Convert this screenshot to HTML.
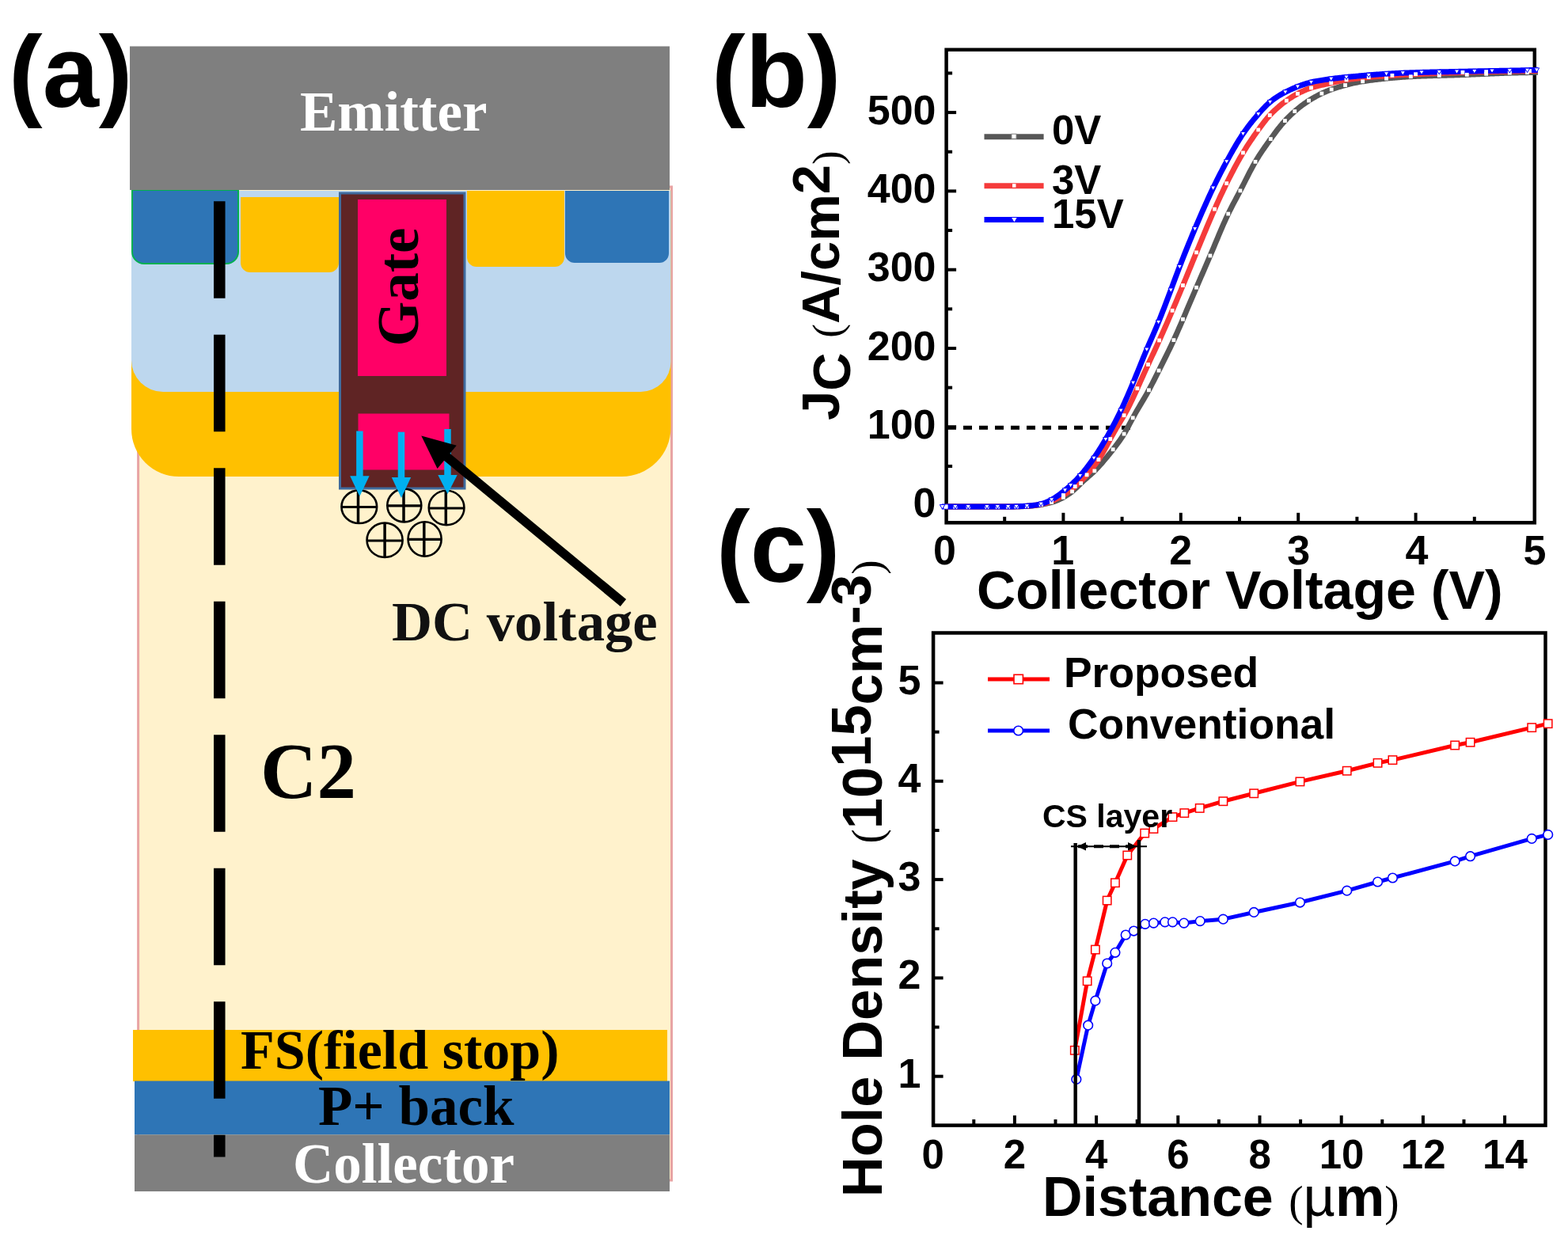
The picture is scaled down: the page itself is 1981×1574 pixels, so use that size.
<!DOCTYPE html>
<html><head><meta charset="utf-8"><title>Figure</title>
<style>html,body{margin:0;padding:0;background:#fff;overflow:hidden;width:1981px;height:1574px;} svg{display:block;}</style>
</head><body>
<svg width="1981" height="1574" viewBox="0 0 1981 1574">
<rect width="1981" height="1574" fill="#fff"/>
<text x="11" y="134.5" font-family="'Liberation Sans', Arial, sans-serif" font-weight="bold" font-size="128">(a)</text>
<rect x="174.6" y="236" width="673.9" height="1255" fill="#FFF2CC" stroke="#E8A4A4" stroke-width="3"/>
<path d="M166,241 H847.5 V540 a62,62 0 0 1 -62,62 H226 a60,60 0 0 1 -60,-60 Z" fill="#FFC000"/>
<path d="M166,241 H847.5 V457 a38,38 0 0 1 -38,38 H206 a40,40 0 0 1 -40,-40 Z" fill="#BDD7EE"/>
<path d="M167,240 H301 V318 a15,15 0 0 1 -15,15 H182 a15,15 0 0 1 -15,-15 Z" fill="#2E75B6" stroke="#00B050" stroke-width="2"/>
<path d="M714,241 H845 V320 a12,12 0 0 1 -12,12 H726 a12,12 0 0 1 -12,-12 Z" fill="#2E75B6"/>
<path d="M304,249 H428 V332 a12,12 0 0 1 -12,12 H316 a12,12 0 0 1 -12,-12 Z" fill="#FFC000"/>
<path d="M590,241 H713 V325 a12,12 0 0 1 -12,12 H602 a12,12 0 0 1 -12,-12 Z" fill="#FFC000"/>
<rect x="429.5" y="244" width="157.5" height="373" fill="#5F2424" stroke="#3F6B9E" stroke-width="3"/>
<rect x="452" y="252" width="112" height="223" fill="#FF0066"/>
<rect x="452.5" y="522.5" width="115" height="71" fill="#FF0066"/>
<rect x="164" y="58.5" width="682" height="181.5" fill="#7F7F7F"/>
<text x="379" y="164.5" font-family="'Liberation Serif', 'Times New Roman', serif" font-weight="bold" font-size="71" fill="#fff">Emitter</text>
<text transform="translate(527.8,437.5) rotate(-90)" x="0" y="0" font-family="'Liberation Serif', 'Times New Roman', serif" font-weight="bold" font-size="73">Gate</text>
<rect x="168" y="1301" width="675" height="65" fill="#FFC000"/>
<rect x="170" y="1365.5" width="676" height="68" fill="#2E75B6"/>
<rect x="170" y="1433.5" width="676" height="71.5" fill="#7F7F7F"/>
<line x1="277.3" y1="254.3" x2="277.3" y2="1461.5" stroke="#000" stroke-width="14.5" stroke-dasharray="122.5 46"/>
<text x="304" y="1349.7" font-family="'Liberation Serif', 'Times New Roman', serif" font-weight="bold" font-size="70">FS(field stop)</text>
<text x="402" y="1421.3" font-family="'Liberation Serif', 'Times New Roman', serif" font-weight="bold" font-size="71">P+ back</text>
<text x="370" y="1494" font-family="'Liberation Serif', 'Times New Roman', serif" font-weight="bold" font-size="71" fill="#fff">Collector</text>
<text x="329" y="1006.5" font-family="'Liberation Serif', 'Times New Roman', serif" font-weight="bold" font-size="99">C2</text>
<text x="495" y="808.5" font-family="'Liberation Serif', 'Times New Roman', serif" font-weight="bold" font-size="70.7" fill="#111">DC voltage</text>
<ellipse cx="453.8" cy="640.2" rx="22.35" ry="20.85" fill="none" stroke="#000" stroke-width="2.6"/>
<line x1="431.45" y1="640.5" x2="476.15" y2="640.5" stroke="#000" stroke-width="3.2"/>
<line x1="452.5" y1="619.35" x2="452.5" y2="661.05" stroke="#000" stroke-width="3.5"/>
<ellipse cx="510.8" cy="638.5" rx="21.5" ry="20.85" fill="none" stroke="#000" stroke-width="2.6"/>
<line x1="489.3" y1="638.8" x2="532.3" y2="638.8" stroke="#000" stroke-width="3.2"/>
<line x1="510" y1="617.65" x2="510" y2="659.35" stroke="#000" stroke-width="3.5"/>
<ellipse cx="564.1" cy="641.5" rx="22.35" ry="21.7" fill="none" stroke="#000" stroke-width="2.6"/>
<line x1="541.75" y1="642" x2="586.45" y2="642" stroke="#000" stroke-width="3.2"/>
<line x1="563.3" y1="619.8" x2="563.3" y2="663.2" stroke="#000" stroke-width="3.5"/>
<ellipse cx="486.1" cy="682.3" rx="22.55" ry="21.7" fill="none" stroke="#000" stroke-width="2.6"/>
<line x1="463.55" y1="683" x2="508.65" y2="683" stroke="#000" stroke-width="3.2"/>
<line x1="486.1" y1="660.6" x2="486.1" y2="704" stroke="#000" stroke-width="3.5"/>
<ellipse cx="536.6" cy="681" rx="21.05" ry="21.7" fill="none" stroke="#000" stroke-width="2.6"/>
<line x1="515.55" y1="681.3" x2="557.65" y2="681.3" stroke="#000" stroke-width="3.2"/>
<line x1="535.8" y1="659.3" x2="535.8" y2="702.7" stroke="#000" stroke-width="3.5"/>
<line x1="454.4" y1="544.5" x2="454.4" y2="603.2" stroke="#00B0F0" stroke-width="8.5"/>
<polygon points="442.2,601.2 466.59999999999997,601.2 454.4,627" fill="#00B0F0"/>
<line x1="507" y1="545.7" x2="507" y2="605" stroke="#00B0F0" stroke-width="8.5"/>
<polygon points="494.8,603 519.2,603 507,629" fill="#00B0F0"/>
<line x1="565.5" y1="542" x2="565.5" y2="602" stroke="#00B0F0" stroke-width="8.5"/>
<polygon points="553.3,600 577.7,600 565.5,624" fill="#00B0F0"/>
<line x1="559.81" y1="573.25" x2="787.4" y2="761.5" stroke="#000" stroke-width="11.5"/>
<polygon points="532.3,550.5 552.55,591.91 576.77,562.63" fill="#000"/>
<text x="899" y="135" font-family="'Liberation Sans', Arial, sans-serif" font-weight="bold" font-size="128">(b)</text>
<rect x="1195.6" y="62.8" width="743.2" height="597.5" fill="none" stroke="#000" stroke-width="4.5"/>
<line x1="1195.6" y1="638.6" x2="1208.1" y2="638.6" stroke="#000" stroke-width="4"/>
<text x="1182.5" y="653.1" text-anchor="end" font-family="'Liberation Sans', Arial, sans-serif" font-weight="bold" font-size="52">0</text>
<line x1="1195.6" y1="588.95" x2="1203.1" y2="588.95" stroke="#000" stroke-width="4"/>
<line x1="1195.6" y1="539.3" x2="1208.1" y2="539.3" stroke="#000" stroke-width="4"/>
<text x="1182.5" y="553.8" text-anchor="end" font-family="'Liberation Sans', Arial, sans-serif" font-weight="bold" font-size="52">100</text>
<line x1="1195.6" y1="489.65" x2="1203.1" y2="489.65" stroke="#000" stroke-width="4"/>
<line x1="1195.6" y1="440" x2="1208.1" y2="440" stroke="#000" stroke-width="4"/>
<text x="1182.5" y="454.5" text-anchor="end" font-family="'Liberation Sans', Arial, sans-serif" font-weight="bold" font-size="52">200</text>
<line x1="1195.6" y1="390.35" x2="1203.1" y2="390.35" stroke="#000" stroke-width="4"/>
<line x1="1195.6" y1="340.7" x2="1208.1" y2="340.7" stroke="#000" stroke-width="4"/>
<text x="1182.5" y="355.2" text-anchor="end" font-family="'Liberation Sans', Arial, sans-serif" font-weight="bold" font-size="52">300</text>
<line x1="1195.6" y1="291.05" x2="1203.1" y2="291.05" stroke="#000" stroke-width="4"/>
<line x1="1195.6" y1="241.4" x2="1208.1" y2="241.4" stroke="#000" stroke-width="4"/>
<text x="1182.5" y="255.9" text-anchor="end" font-family="'Liberation Sans', Arial, sans-serif" font-weight="bold" font-size="52">400</text>
<line x1="1195.6" y1="191.75" x2="1203.1" y2="191.75" stroke="#000" stroke-width="4"/>
<line x1="1195.6" y1="142.1" x2="1208.1" y2="142.1" stroke="#000" stroke-width="4"/>
<text x="1182.5" y="156.6" text-anchor="end" font-family="'Liberation Sans', Arial, sans-serif" font-weight="bold" font-size="52">500</text>
<line x1="1195.6" y1="92.45" x2="1203.1" y2="92.45" stroke="#000" stroke-width="4"/>
<line x1="1269.2" y1="660.3" x2="1269.2" y2="652.8" stroke="#000" stroke-width="4"/>
<line x1="1343.4" y1="660.3" x2="1343.4" y2="647.8" stroke="#000" stroke-width="4"/>
<line x1="1417.6" y1="660.3" x2="1417.6" y2="652.8" stroke="#000" stroke-width="4"/>
<line x1="1491.8" y1="660.3" x2="1491.8" y2="647.8" stroke="#000" stroke-width="4"/>
<line x1="1566" y1="660.3" x2="1566" y2="652.8" stroke="#000" stroke-width="4"/>
<line x1="1640.2" y1="660.3" x2="1640.2" y2="647.8" stroke="#000" stroke-width="4"/>
<line x1="1714.4" y1="660.3" x2="1714.4" y2="652.8" stroke="#000" stroke-width="4"/>
<line x1="1788.6" y1="660.3" x2="1788.6" y2="647.8" stroke="#000" stroke-width="4"/>
<line x1="1862.8" y1="660.3" x2="1862.8" y2="652.8" stroke="#000" stroke-width="4"/>
<line x1="1197" y1="540.2" x2="1428" y2="540.2" stroke="#000" stroke-width="5" stroke-dasharray="11 9"/>
<path d="M1195,640.09 L1196.5,640.09 L1198,640.09 L1199.5,640.09 L1201,640.09 L1202.49,640.09 L1203.99,640.09 L1205.49,640.09 L1206.99,640.09 L1208.49,640.09 L1209.99,640.09 L1211.49,640.09 L1212.99,640.09 L1214.49,640.09 L1215.98,640.09 L1217.48,640.09 L1218.98,640.09 L1220.48,640.09 L1221.98,640.09 L1223.48,640.09 L1224.98,640.09 L1226.48,640.09 L1227.98,640.09 L1229.47,640.09 L1230.97,640.09 L1232.47,640.09 L1233.97,640.09 L1235.47,640.09 L1236.97,640.09 L1238.47,640.09 L1239.97,640.09 L1241.46,640.09 L1242.96,640.09 L1244.46,640.09 L1245.96,640.09 L1247.46,640.09 L1248.96,640.09 L1250.46,640.09 L1251.96,640.09 L1253.46,640.09 L1254.95,640.09 L1256.45,640.09 L1257.95,640.09 L1259.45,640.09 L1260.95,640.09 L1262.45,640.09 L1263.95,640.09 L1265.45,640.09 L1266.95,640.09 L1268.44,640.08 L1269.94,640.08 L1271.44,640.07 L1272.94,640.06 L1274.44,640.05 L1275.94,640.03 L1277.44,640.01 L1278.94,639.99 L1280.44,639.96 L1281.93,639.93 L1283.43,639.89 L1284.93,639.86 L1286.43,639.82 L1287.93,639.77 L1289.43,639.73 L1290.93,639.68 L1292.43,639.63 L1293.93,639.57 L1295.42,639.51 L1296.92,639.44 L1298.42,639.37 L1299.92,639.28 L1301.42,639.18 L1302.92,639.06 L1304.42,638.93 L1305.92,638.78 L1307.42,638.61 L1308.91,638.42 L1310.41,638.22 L1311.91,638 L1313.41,637.76 L1314.91,637.51 L1316.41,637.24 L1317.91,636.95 L1319.41,636.65 L1320.91,636.34 L1322.4,636.02 L1323.9,635.68 L1325.4,635.32 L1326.9,634.94 L1328.4,634.53 L1329.9,634.1 L1331.4,633.62 L1332.9,633.11 L1334.39,632.56 L1335.89,631.95 L1337.39,631.31 L1338.89,630.62 L1340.39,629.89 L1341.89,629.11 L1343.39,628.3 L1344.89,627.45 L1346.39,626.56 L1347.88,625.63 L1349.38,624.65 L1350.88,623.63 L1352.38,622.56 L1353.88,621.41 L1355.38,620.19 L1356.88,618.9 L1358.38,617.53 L1359.88,616.11 L1361.37,614.65 L1362.87,613.17 L1364.37,611.71 L1365.87,610.26 L1367.37,608.86 L1368.87,607.48 L1370.37,606.15 L1371.87,604.83 L1373.37,603.53 L1374.86,602.23 L1376.36,600.92 L1377.86,599.59 L1379.36,598.22 L1380.86,596.83 L1382.36,595.39 L1383.86,593.9 L1385.36,592.37 L1386.86,590.79 L1388.35,589.17 L1389.85,587.52 L1391.35,585.82 L1392.85,584.1 L1394.35,582.34 L1395.85,580.56 L1397.35,578.75 L1398.85,576.92 L1400.35,575.08 L1401.84,573.21 L1403.34,571.34 L1404.84,569.45 L1406.34,567.54 L1407.84,565.62 L1409.34,563.68 L1410.84,561.71 L1412.34,559.7 L1413.83,557.64 L1415.33,555.51 L1416.83,553.31 L1418.33,551.02 L1419.83,548.62 L1421.33,546.12 L1422.83,543.51 L1424.33,540.81 L1425.83,538.04 L1427.32,535.23 L1428.82,532.4 L1430.32,529.58 L1431.82,526.8 L1433.32,524.07 L1434.82,521.4 L1436.32,518.78 L1437.82,516.21 L1439.32,513.67 L1440.81,511.16 L1442.31,508.65 L1443.81,506.14 L1445.31,503.61 L1446.81,501.04 L1448.31,498.43 L1449.81,495.76 L1451.31,493.04 L1452.81,490.25 L1454.3,487.4 L1455.8,484.5 L1457.3,481.56 L1458.8,478.58 L1460.3,475.59 L1461.8,472.58 L1463.3,469.57 L1464.8,466.57 L1466.3,463.57 L1467.79,460.58 L1469.29,457.59 L1470.79,454.6 L1472.29,451.6 L1473.79,448.59 L1475.29,445.55 L1476.79,442.49 L1478.29,439.4 L1479.79,436.26 L1481.28,433.08 L1482.78,429.85 L1484.28,426.57 L1485.78,423.24 L1487.28,419.86 L1488.78,416.44 L1490.28,412.99 L1491.78,409.52 L1493.28,406.03 L1494.77,402.53 L1496.27,399.03 L1497.77,395.51 L1499.27,391.99 L1500.77,388.47 L1502.27,384.94 L1503.77,381.41 L1505.27,377.89 L1506.76,374.36 L1508.26,370.85 L1509.76,367.34 L1511.26,363.84 L1512.76,360.35 L1514.26,356.88 L1515.76,353.41 L1517.26,349.95 L1518.76,346.49 L1520.25,343.04 L1521.75,339.58 L1523.25,336.13 L1524.75,332.66 L1526.25,329.19 L1527.75,325.7 L1529.25,322.19 L1530.75,318.67 L1532.25,315.12 L1533.74,311.55 L1535.24,307.97 L1536.74,304.38 L1538.24,300.79 L1539.74,297.21 L1541.24,293.66 L1542.74,290.13 L1544.24,286.64 L1545.74,283.21 L1547.23,279.83 L1548.73,276.53 L1550.23,273.29 L1551.73,270.14 L1553.23,267.06 L1554.73,264.06 L1556.23,261.12 L1557.73,258.23 L1559.23,255.38 L1560.72,252.56 L1562.22,249.75 L1563.72,246.93 L1565.22,244.09 L1566.72,241.23 L1568.22,238.34 L1569.72,235.42 L1571.22,232.47 L1572.72,229.5 L1574.21,226.53 L1575.71,223.56 L1577.21,220.61 L1578.71,217.7 L1580.21,214.83 L1581.71,212.03 L1583.21,209.29 L1584.71,206.63 L1586.21,204.04 L1587.7,201.53 L1589.2,199.09 L1590.7,196.71 L1592.2,194.39 L1593.7,192.12 L1595.2,189.89 L1596.7,187.71 L1598.2,185.55 L1599.69,183.42 L1601.19,181.31 L1602.69,179.22 L1604.19,177.14 L1605.69,175.08 L1607.19,173.02 L1608.69,170.97 L1610.19,168.93 L1611.69,166.92 L1613.18,164.93 L1614.68,162.97 L1616.18,161.06 L1617.68,159.2 L1619.18,157.39 L1620.68,155.64 L1622.18,153.95 L1623.68,152.31 L1625.18,150.73 L1626.67,149.19 L1628.17,147.69 L1629.67,146.23 L1631.17,144.8 L1632.67,143.4 L1634.17,142.03 L1635.67,140.69 L1637.17,139.38 L1638.67,138.1 L1640.16,136.85 L1641.66,135.63 L1643.16,134.45 L1644.66,133.3 L1646.16,132.18 L1647.66,131.09 L1649.16,130.04 L1650.66,129.02 L1652.16,128.02 L1653.65,127.06 L1655.15,126.13 L1656.65,125.21 L1658.15,124.33 L1659.65,123.46 L1661.15,122.61 L1662.65,121.79 L1664.15,120.98 L1665.65,120.19 L1667.14,119.43 L1668.64,118.68 L1670.14,117.96 L1671.64,117.26 L1673.14,116.59 L1674.64,115.93 L1676.14,115.3 L1677.64,114.7 L1679.13,114.11 L1680.63,113.55 L1682.13,113 L1683.63,112.48 L1685.13,111.96 L1686.63,111.46 L1688.13,110.97 L1689.63,110.49 L1691.13,110.02 L1692.62,109.56 L1694.12,109.11 L1695.62,108.67 L1697.12,108.24 L1698.62,107.82 L1700.12,107.41 L1701.62,107.01 L1703.12,106.62 L1704.62,106.25 L1706.11,105.88 L1707.61,105.53 L1709.11,105.19 L1710.61,104.86 L1712.11,104.54 L1713.61,104.24 L1715.11,103.95 L1716.61,103.67 L1718.11,103.4 L1719.6,103.15 L1721.1,102.91 L1722.6,102.67 L1724.1,102.45 L1725.6,102.23 L1727.1,102.01 L1728.6,101.8 L1730.1,101.6 L1731.6,101.4 L1733.09,101.2 L1734.59,101.01 L1736.09,100.82 L1737.59,100.63 L1739.09,100.45 L1740.59,100.27 L1742.09,100.1 L1743.59,99.92 L1745.09,99.76 L1746.58,99.59 L1748.08,99.43 L1749.58,99.27 L1751.08,99.12 L1752.58,98.97 L1754.08,98.82 L1755.58,98.68 L1757.08,98.54 L1758.58,98.41 L1760.07,98.27 L1761.57,98.14 L1763.07,98.02 L1764.57,97.9 L1766.07,97.78 L1767.57,97.67 L1769.07,97.56 L1770.57,97.45 L1772.06,97.35 L1773.56,97.25 L1775.06,97.15 L1776.56,97.06 L1778.06,96.97 L1779.56,96.88 L1781.06,96.8 L1782.56,96.72 L1784.06,96.65 L1785.55,96.57 L1787.05,96.5 L1788.55,96.43 L1790.05,96.37 L1791.55,96.3 L1793.05,96.24 L1794.55,96.18 L1796.05,96.12 L1797.55,96.06 L1799.04,96.01 L1800.54,95.95 L1802.04,95.9 L1803.54,95.85 L1805.04,95.8 L1806.54,95.75 L1808.04,95.7 L1809.54,95.65 L1811.04,95.61 L1812.53,95.56 L1814.03,95.52 L1815.53,95.47 L1817.03,95.43 L1818.53,95.39 L1820.03,95.34 L1821.53,95.3 L1823.03,95.26 L1824.53,95.22 L1826.02,95.17 L1827.52,95.13 L1829.02,95.09 L1830.52,95.05 L1832.02,95.01 L1833.52,94.96 L1835.02,94.92 L1836.52,94.88 L1838.02,94.83 L1839.51,94.79 L1841.01,94.74 L1842.51,94.7 L1844.01,94.65 L1845.51,94.6 L1847.01,94.55 L1848.51,94.5 L1850.01,94.45 L1851.5,94.4 L1853,94.34 L1854.5,94.29 L1856,94.23 L1857.5,94.17 L1859,94.11 L1860.5,94.05 L1862,93.99 L1863.5,93.93 L1864.99,93.86 L1866.49,93.8 L1867.99,93.73 L1869.49,93.67 L1870.99,93.6 L1872.49,93.54 L1873.99,93.47 L1875.49,93.41 L1876.99,93.34 L1878.48,93.27 L1879.98,93.21 L1881.48,93.14 L1882.98,93.08 L1884.48,93.01 L1885.98,92.95 L1887.48,92.88 L1888.98,92.82 L1890.48,92.76 L1891.97,92.7 L1893.47,92.64 L1894.97,92.58 L1896.47,92.52 L1897.97,92.47 L1899.47,92.41 L1900.97,92.36 L1902.47,92.31 L1903.97,92.26 L1905.46,92.22 L1906.96,92.17 L1908.46,92.13 L1909.96,92.09 L1911.46,92.05 L1912.96,92.01 L1914.46,91.97 L1915.96,91.94 L1917.46,91.91 L1918.95,91.87 L1920.45,91.84 L1921.95,91.81 L1923.45,91.78 L1924.95,91.74 L1926.45,91.71 L1927.95,91.68 L1929.45,91.64 L1930.95,91.61 L1932.44,91.57 L1933.94,91.53 L1935.44,91.49 L1936.94,91.45 L1938.44,91.41 L1939.94,91.38 L1941.44,91.35 L1942.94,91.32" fill="none" stroke="#575757" stroke-width="7" stroke-linejoin="round"/>
<path d="M1195,640.09 L1196.5,640.09 L1198,640.09 L1199.5,640.09 L1201,640.09 L1202.49,640.09 L1203.99,640.09 L1205.49,640.09 L1206.99,640.09 L1208.49,640.09 L1209.99,640.09 L1211.49,640.09 L1212.99,640.09 L1214.49,640.09 L1215.98,640.09 L1217.48,640.09 L1218.98,640.09 L1220.48,640.09 L1221.98,640.09 L1223.48,640.09 L1224.98,640.09 L1226.48,640.09 L1227.98,640.09 L1229.47,640.09 L1230.97,640.09 L1232.47,640.09 L1233.97,640.09 L1235.47,640.09 L1236.97,640.09 L1238.47,640.09 L1239.97,640.09 L1241.46,640.09 L1242.96,640.09 L1244.46,640.09 L1245.96,640.09 L1247.46,640.09 L1248.96,640.09 L1250.46,640.09 L1251.96,640.09 L1253.46,640.09 L1254.95,640.09 L1256.45,640.09 L1257.95,640.09 L1259.45,640.09 L1260.95,640.09 L1262.45,640.09 L1263.95,640.09 L1265.45,640.09 L1266.95,640.09 L1268.44,640.08 L1269.94,640.08 L1271.44,640.07 L1272.94,640.06 L1274.44,640.04 L1275.94,640.02 L1277.44,640 L1278.94,639.97 L1280.44,639.94 L1281.93,639.91 L1283.43,639.87 L1284.93,639.83 L1286.43,639.78 L1287.93,639.73 L1289.43,639.68 L1290.93,639.62 L1292.43,639.56 L1293.93,639.5 L1295.42,639.43 L1296.92,639.35 L1298.42,639.26 L1299.92,639.15 L1301.42,639.03 L1302.92,638.88 L1304.42,638.72 L1305.92,638.53 L1307.42,638.32 L1308.91,638.09 L1310.41,637.84 L1311.91,637.57 L1313.41,637.28 L1314.91,636.97 L1316.41,636.65 L1317.91,636.31 L1319.41,635.94 L1320.91,635.55 L1322.4,635.13 L1323.9,634.67 L1325.4,634.18 L1326.9,633.65 L1328.4,633.08 L1329.9,632.47 L1331.4,631.83 L1332.9,631.14 L1334.39,630.43 L1335.89,629.69 L1337.39,628.91 L1338.89,628.11 L1340.39,627.29 L1341.89,626.43 L1343.39,625.54 L1344.89,624.62 L1346.39,623.65 L1347.88,622.65 L1349.38,621.6 L1350.88,620.51 L1352.38,619.37 L1353.88,618.19 L1355.38,616.97 L1356.88,615.71 L1358.38,614.42 L1359.88,613.09 L1361.37,611.73 L1362.87,610.34 L1364.37,608.91 L1365.87,607.45 L1367.37,605.95 L1368.87,604.41 L1370.37,602.83 L1371.87,601.2 L1373.37,599.53 L1374.86,597.81 L1376.36,596.04 L1377.86,594.22 L1379.36,592.36 L1380.86,590.44 L1382.36,588.47 L1383.86,586.44 L1385.36,584.35 L1386.86,582.18 L1388.35,579.94 L1389.85,577.61 L1391.35,575.18 L1392.85,572.67 L1394.35,570.07 L1395.85,567.4 L1397.35,564.67 L1398.85,561.89 L1400.35,559.08 L1401.84,556.26 L1403.34,553.46 L1404.84,550.67 L1406.34,547.94 L1407.84,545.25 L1409.34,542.64 L1410.84,540.08 L1412.34,537.59 L1413.83,535.13 L1415.33,532.7 L1416.83,530.25 L1418.33,527.76 L1419.83,525.21 L1421.33,522.57 L1422.83,519.85 L1424.33,517.03 L1425.83,514.12 L1427.32,511.14 L1428.82,508.08 L1430.32,504.95 L1431.82,501.77 L1433.32,498.54 L1434.82,495.26 L1436.32,491.96 L1437.82,488.64 L1439.32,485.3 L1440.81,481.95 L1442.31,478.6 L1443.81,475.26 L1445.31,471.93 L1446.81,468.62 L1448.31,465.33 L1449.81,462.06 L1451.31,458.81 L1452.81,455.58 L1454.3,452.36 L1455.8,449.14 L1457.3,445.92 L1458.8,442.69 L1460.3,439.45 L1461.8,436.19 L1463.3,432.91 L1464.8,429.61 L1466.3,426.28 L1467.79,422.92 L1469.29,419.54 L1470.79,416.14 L1472.29,412.72 L1473.79,409.29 L1475.29,405.83 L1476.79,402.37 L1478.29,398.89 L1479.79,395.39 L1481.28,391.89 L1482.78,388.37 L1484.28,384.84 L1485.78,381.29 L1487.28,377.74 L1488.78,374.17 L1490.28,370.59 L1491.78,366.99 L1493.28,363.39 L1494.77,359.77 L1496.27,356.14 L1497.77,352.5 L1499.27,348.84 L1500.77,345.18 L1502.27,341.52 L1503.77,337.85 L1505.27,334.18 L1506.76,330.51 L1508.26,326.85 L1509.76,323.2 L1511.26,319.55 L1512.76,315.9 L1514.26,312.26 L1515.76,308.63 L1517.26,305 L1518.76,301.37 L1520.25,297.75 L1521.75,294.14 L1523.25,290.54 L1524.75,286.96 L1526.25,283.4 L1527.75,279.86 L1529.25,276.35 L1530.75,272.86 L1532.25,269.4 L1533.74,265.98 L1535.24,262.59 L1536.74,259.22 L1538.24,255.89 L1539.74,252.59 L1541.24,249.32 L1542.74,246.09 L1544.24,242.9 L1545.74,239.74 L1547.23,236.63 L1548.73,233.55 L1550.23,230.5 L1551.73,227.49 L1553.23,224.52 L1554.73,221.58 L1556.23,218.66 L1557.73,215.79 L1559.23,212.94 L1560.72,210.13 L1562.22,207.36 L1563.72,204.64 L1565.22,201.96 L1566.72,199.32 L1568.22,196.73 L1569.72,194.19 L1571.22,191.7 L1572.72,189.25 L1574.21,186.85 L1575.71,184.49 L1577.21,182.17 L1578.71,179.89 L1580.21,177.65 L1581.71,175.43 L1583.21,173.25 L1584.71,171.09 L1586.21,168.96 L1587.7,166.85 L1589.2,164.75 L1590.7,162.68 L1592.2,160.63 L1593.7,158.6 L1595.2,156.61 L1596.7,154.65 L1598.2,152.74 L1599.69,150.88 L1601.19,149.08 L1602.69,147.35 L1604.19,145.69 L1605.69,144.08 L1607.19,142.54 L1608.69,141.05 L1610.19,139.61 L1611.69,138.22 L1613.18,136.86 L1614.68,135.54 L1616.18,134.26 L1617.68,133.02 L1619.18,131.8 L1620.68,130.62 L1622.18,129.47 L1623.68,128.35 L1625.18,127.26 L1626.67,126.2 L1628.17,125.17 L1629.67,124.17 L1631.17,123.2 L1632.67,122.26 L1634.17,121.35 L1635.67,120.47 L1637.17,119.62 L1638.67,118.8 L1640.16,118 L1641.66,117.23 L1643.16,116.48 L1644.66,115.76 L1646.16,115.05 L1647.66,114.38 L1649.16,113.73 L1650.66,113.1 L1652.16,112.51 L1653.65,111.95 L1655.15,111.42 L1656.65,110.91 L1658.15,110.44 L1659.65,110 L1661.15,109.57 L1662.65,109.17 L1664.15,108.79 L1665.65,108.42 L1667.14,108.06 L1668.64,107.71 L1670.14,107.38 L1671.64,107.04 L1673.14,106.72 L1674.64,106.39 L1676.14,106.07 L1677.64,105.74 L1679.13,105.41 L1680.63,105.08 L1682.13,104.74 L1683.63,104.4 L1685.13,104.05 L1686.63,103.7 L1688.13,103.35 L1689.63,103.01 L1691.13,102.66 L1692.62,102.33 L1694.12,102.02 L1695.62,101.71 L1697.12,101.43 L1698.62,101.16 L1700.12,100.91 L1701.62,100.68 L1703.12,100.46 L1704.62,100.25 L1706.11,100.06 L1707.61,99.87 L1709.11,99.68 L1710.61,99.5 L1712.11,99.33 L1713.61,99.15 L1715.11,98.99 L1716.61,98.82 L1718.11,98.66 L1719.6,98.5 L1721.1,98.35 L1722.6,98.19 L1724.1,98.04 L1725.6,97.9 L1727.1,97.76 L1728.6,97.62 L1730.1,97.48 L1731.6,97.34 L1733.09,97.21 L1734.59,97.08 L1736.09,96.96 L1737.59,96.83 L1739.09,96.71 L1740.59,96.59 L1742.09,96.48 L1743.59,96.36 L1745.09,96.25 L1746.58,96.14 L1748.08,96.03 L1749.58,95.92 L1751.08,95.82 L1752.58,95.72 L1754.08,95.62 L1755.58,95.52 L1757.08,95.42 L1758.58,95.33 L1760.07,95.23 L1761.57,95.14 L1763.07,95.05 L1764.57,94.96 L1766.07,94.87 L1767.57,94.79 L1769.07,94.7 L1770.57,94.62 L1772.06,94.53 L1773.56,94.45 L1775.06,94.37 L1776.56,94.29 L1778.06,94.21 L1779.56,94.13 L1781.06,94.05 L1782.56,93.98 L1784.06,93.9 L1785.55,93.83 L1787.05,93.75 L1788.55,93.68 L1790.05,93.61 L1791.55,93.53 L1793.05,93.46 L1794.55,93.39 L1796.05,93.32 L1797.55,93.26 L1799.04,93.19 L1800.54,93.12 L1802.04,93.05 L1803.54,92.99 L1805.04,92.93 L1806.54,92.86 L1808.04,92.8 L1809.54,92.74 L1811.04,92.67 L1812.53,92.61 L1814.03,92.55 L1815.53,92.5 L1817.03,92.44 L1818.53,92.38 L1820.03,92.32 L1821.53,92.27 L1823.03,92.21 L1824.53,92.15 L1826.02,92.1 L1827.52,92.05 L1829.02,91.99 L1830.52,91.94 L1832.02,91.89 L1833.52,91.84 L1835.02,91.79 L1836.52,91.74 L1838.02,91.69 L1839.51,91.64 L1841.01,91.59 L1842.51,91.55 L1844.01,91.5 L1845.51,91.45 L1847.01,91.41 L1848.51,91.36 L1850.01,91.32 L1851.5,91.27 L1853,91.23 L1854.5,91.19 L1856,91.15 L1857.5,91.11 L1859,91.06 L1860.5,91.02 L1862,90.98 L1863.5,90.95 L1864.99,90.91 L1866.49,90.87 L1867.99,90.84 L1869.49,90.8 L1870.99,90.77 L1872.49,90.73 L1873.99,90.7 L1875.49,90.67 L1876.99,90.64 L1878.48,90.61 L1879.98,90.58 L1881.48,90.55 L1882.98,90.52 L1884.48,90.49 L1885.98,90.46 L1887.48,90.44 L1888.98,90.41 L1890.48,90.38 L1891.97,90.36 L1893.47,90.33 L1894.97,90.31 L1896.47,90.28 L1897.97,90.26 L1899.47,90.23 L1900.97,90.2 L1902.47,90.18 L1903.97,90.15 L1905.46,90.13 L1906.96,90.1 L1908.46,90.08 L1909.96,90.05 L1911.46,90.02 L1912.96,90 L1914.46,89.97 L1915.96,89.94 L1917.46,89.91 L1918.95,89.88 L1920.45,89.85 L1921.95,89.82 L1923.45,89.79 L1924.95,89.76 L1926.45,89.72 L1927.95,89.69 L1929.45,89.66 L1930.95,89.62 L1932.44,89.58 L1933.94,89.54 L1935.44,89.51 L1936.94,89.47 L1938.44,89.43 L1939.94,89.39 L1941.44,89.36 L1942.94,89.33" fill="none" stroke="#F53B3B" stroke-width="7" stroke-linejoin="round"/>
<path d="M1189.81,640.09 L1191.32,640.09 L1192.82,640.09 L1194.33,640.09 L1195.84,640.09 L1197.35,640.09 L1198.86,640.09 L1200.37,640.09 L1201.88,640.09 L1203.39,640.09 L1204.9,640.09 L1206.41,640.09 L1207.92,640.09 L1209.43,640.09 L1210.94,640.09 L1212.45,640.09 L1213.95,640.09 L1215.46,640.09 L1216.97,640.09 L1218.48,640.09 L1219.99,640.09 L1221.5,640.09 L1223.01,640.09 L1224.52,640.09 L1226.03,640.09 L1227.54,640.09 L1229.05,640.09 L1230.56,640.09 L1232.07,640.09 L1233.58,640.09 L1235.08,640.09 L1236.59,640.09 L1238.1,640.09 L1239.61,640.09 L1241.12,640.09 L1242.63,640.09 L1244.14,640.09 L1245.65,640.09 L1247.16,640.09 L1248.67,640.09 L1250.18,640.09 L1251.69,640.09 L1253.2,640.09 L1254.7,640.09 L1256.21,640.09 L1257.72,640.09 L1259.23,640.09 L1260.74,640.09 L1262.25,640.09 L1263.76,640.09 L1265.27,640.09 L1266.78,640.08 L1268.29,640.08 L1269.8,640.07 L1271.31,640.06 L1272.82,640.05 L1274.33,640.03 L1275.83,640.01 L1277.34,639.98 L1278.85,639.94 L1280.36,639.9 L1281.87,639.86 L1283.38,639.81 L1284.89,639.76 L1286.4,639.7 L1287.91,639.64 L1289.42,639.57 L1290.93,639.5 L1292.44,639.43 L1293.95,639.35 L1295.46,639.26 L1296.96,639.17 L1298.47,639.07 L1299.98,638.95 L1301.49,638.82 L1303,638.67 L1304.51,638.5 L1306.02,638.31 L1307.53,638.1 L1309.04,637.87 L1310.55,637.61 L1312.06,637.32 L1313.57,637 L1315.08,636.64 L1316.59,636.23 L1318.09,635.78 L1319.6,635.27 L1321.11,634.71 L1322.62,634.1 L1324.13,633.44 L1325.64,632.74 L1327.15,631.98 L1328.66,631.18 L1330.17,630.32 L1331.68,629.42 L1333.19,628.46 L1334.7,627.45 L1336.21,626.4 L1337.72,625.31 L1339.22,624.18 L1340.73,623.03 L1342.24,621.85 L1343.75,620.65 L1345.26,619.43 L1346.77,618.19 L1348.28,616.92 L1349.79,615.62 L1351.3,614.3 L1352.81,612.93 L1354.32,611.54 L1355.83,610.1 L1357.34,608.63 L1358.85,607.12 L1360.35,605.57 L1361.86,603.98 L1363.37,602.35 L1364.88,600.67 L1366.39,598.95 L1367.9,597.18 L1369.41,595.37 L1370.92,593.52 L1372.43,591.62 L1373.94,589.68 L1375.45,587.7 L1376.96,585.68 L1378.47,583.61 L1379.98,581.5 L1381.48,579.35 L1382.99,577.15 L1384.5,574.91 L1386.01,572.63 L1387.52,570.3 L1389.03,567.93 L1390.54,565.51 L1392.05,563.05 L1393.56,560.56 L1395.07,558.02 L1396.58,555.45 L1398.09,552.84 L1399.6,550.2 L1401.1,547.53 L1402.61,544.82 L1404.12,542.07 L1405.63,539.28 L1407.14,536.45 L1408.65,533.57 L1410.16,530.64 L1411.67,527.65 L1413.18,524.61 L1414.69,521.52 L1416.2,518.37 L1417.71,515.17 L1419.22,511.92 L1420.73,508.6 L1422.23,505.24 L1423.74,501.83 L1425.25,498.37 L1426.76,494.88 L1428.27,491.34 L1429.78,487.77 L1431.29,484.17 L1432.8,480.54 L1434.31,476.88 L1435.82,473.19 L1437.33,469.48 L1438.84,465.76 L1440.35,462.03 L1441.86,458.3 L1443.36,454.58 L1444.87,450.89 L1446.38,447.23 L1447.89,443.61 L1449.4,440.03 L1450.91,436.49 L1452.42,432.99 L1453.93,429.51 L1455.44,426.05 L1456.95,422.59 L1458.46,419.1 L1459.97,415.59 L1461.48,412.02 L1462.99,408.4 L1464.49,404.72 L1466,400.97 L1467.51,397.16 L1469.02,393.3 L1470.53,389.39 L1472.04,385.44 L1473.55,381.47 L1475.06,377.47 L1476.57,373.46 L1478.08,369.43 L1479.59,365.4 L1481.1,361.36 L1482.61,357.32 L1484.12,353.29 L1485.62,349.26 L1487.13,345.26 L1488.64,341.28 L1490.15,337.34 L1491.66,333.42 L1493.17,329.55 L1494.68,325.7 L1496.19,321.89 L1497.7,318.1 L1499.21,314.34 L1500.72,310.61 L1502.23,306.91 L1503.74,303.23 L1505.25,299.58 L1506.75,295.95 L1508.26,292.34 L1509.77,288.76 L1511.28,285.2 L1512.79,281.66 L1514.3,278.14 L1515.81,274.64 L1517.32,271.16 L1518.83,267.7 L1520.34,264.26 L1521.85,260.86 L1523.36,257.48 L1524.87,254.13 L1526.38,250.81 L1527.88,247.53 L1529.39,244.29 L1530.9,241.08 L1532.41,237.91 L1533.92,234.78 L1535.43,231.68 L1536.94,228.62 L1538.45,225.6 L1539.96,222.61 L1541.47,219.66 L1542.98,216.74 L1544.49,213.85 L1546,211 L1547.51,208.17 L1549.01,205.37 L1550.52,202.6 L1552.03,199.85 L1553.54,197.11 L1555.05,194.41 L1556.56,191.72 L1558.07,189.07 L1559.58,186.45 L1561.09,183.87 L1562.6,181.33 L1564.11,178.84 L1565.62,176.4 L1567.13,174.02 L1568.63,171.69 L1570.14,169.43 L1571.65,167.22 L1573.16,165.07 L1574.67,162.97 L1576.18,160.92 L1577.69,158.92 L1579.2,156.96 L1580.71,155.03 L1582.22,153.14 L1583.73,151.29 L1585.24,149.46 L1586.75,147.66 L1588.26,145.88 L1589.76,144.13 L1591.27,142.4 L1592.78,140.7 L1594.29,139.02 L1595.8,137.38 L1597.31,135.78 L1598.82,134.23 L1600.33,132.74 L1601.84,131.32 L1603.35,129.97 L1604.86,128.68 L1606.37,127.45 L1607.88,126.29 L1609.39,125.18 L1610.89,124.12 L1612.4,123.1 L1613.91,122.11 L1615.42,121.16 L1616.93,120.25 L1618.44,119.36 L1619.95,118.5 L1621.46,117.66 L1622.97,116.85 L1624.48,116.07 L1625.99,115.3 L1627.5,114.56 L1629.01,113.84 L1630.52,113.14 L1632.02,112.46 L1633.53,111.8 L1635.04,111.16 L1636.55,110.54 L1638.06,109.93 L1639.57,109.34 L1641.08,108.77 L1642.59,108.2 L1644.1,107.65 L1645.61,107.12 L1647.12,106.6 L1648.63,106.1 L1650.14,105.63 L1651.65,105.17 L1653.15,104.74 L1654.66,104.34 L1656.17,103.96 L1657.68,103.61 L1659.19,103.27 L1660.7,102.95 L1662.21,102.65 L1663.72,102.37 L1665.23,102.09 L1666.74,101.83 L1668.25,101.58 L1669.76,101.34 L1671.27,101.1 L1672.78,100.87 L1674.28,100.65 L1675.79,100.43 L1677.3,100.22 L1678.81,100.01 L1680.32,99.8 L1681.83,99.6 L1683.34,99.41 L1684.85,99.22 L1686.36,99.03 L1687.87,98.84 L1689.38,98.66 L1690.89,98.49 L1692.4,98.32 L1693.91,98.15 L1695.41,97.99 L1696.92,97.84 L1698.43,97.68 L1699.94,97.53 L1701.45,97.39 L1702.96,97.24 L1704.47,97.1 L1705.98,96.96 L1707.49,96.82 L1709,96.68 L1710.51,96.54 L1712.02,96.4 L1713.53,96.27 L1715.03,96.13 L1716.54,95.99 L1718.05,95.86 L1719.56,95.72 L1721.07,95.59 L1722.58,95.46 L1724.09,95.33 L1725.6,95.2 L1727.11,95.07 L1728.62,94.94 L1730.13,94.82 L1731.64,94.69 L1733.15,94.57 L1734.66,94.45 L1736.16,94.33 L1737.67,94.21 L1739.18,94.1 L1740.69,93.98 L1742.2,93.87 L1743.71,93.76 L1745.22,93.66 L1746.73,93.55 L1748.24,93.45 L1749.75,93.35 L1751.26,93.25 L1752.77,93.15 L1754.28,93.06 L1755.79,92.97 L1757.29,92.88 L1758.8,92.79 L1760.31,92.71 L1761.82,92.63 L1763.33,92.56 L1764.84,92.48 L1766.35,92.41 L1767.86,92.34 L1769.37,92.28 L1770.88,92.22 L1772.39,92.16 L1773.9,92.1 L1775.41,92.04 L1776.92,91.99 L1778.42,91.94 L1779.93,91.89 L1781.44,91.84 L1782.95,91.79 L1784.46,91.74 L1785.97,91.69 L1787.48,91.65 L1788.99,91.6 L1790.5,91.56 L1792.01,91.52 L1793.52,91.47 L1795.03,91.43 L1796.54,91.39 L1798.05,91.35 L1799.55,91.31 L1801.06,91.27 L1802.57,91.23 L1804.08,91.2 L1805.59,91.16 L1807.1,91.12 L1808.61,91.09 L1810.12,91.05 L1811.63,91.02 L1813.14,90.99 L1814.65,90.95 L1816.16,90.92 L1817.67,90.89 L1819.18,90.85 L1820.68,90.82 L1822.19,90.79 L1823.7,90.76 L1825.21,90.73 L1826.72,90.7 L1828.23,90.67 L1829.74,90.64 L1831.25,90.61 L1832.76,90.58 L1834.27,90.55 L1835.78,90.52 L1837.29,90.49 L1838.8,90.46 L1840.31,90.43 L1841.81,90.4 L1843.32,90.37 L1844.83,90.34 L1846.34,90.31 L1847.85,90.28 L1849.36,90.25 L1850.87,90.22 L1852.38,90.19 L1853.89,90.15 L1855.4,90.12 L1856.91,90.09 L1858.42,90.06 L1859.93,90.03 L1861.43,90 L1862.94,89.96 L1864.45,89.93 L1865.96,89.9 L1867.47,89.87 L1868.98,89.84 L1870.49,89.81 L1872,89.78 L1873.51,89.75 L1875.02,89.72 L1876.53,89.69 L1878.04,89.66 L1879.55,89.64 L1881.06,89.61 L1882.56,89.58 L1884.07,89.55 L1885.58,89.52 L1887.09,89.5 L1888.6,89.47 L1890.11,89.44 L1891.62,89.42 L1893.13,89.39 L1894.64,89.36 L1896.15,89.34 L1897.66,89.31 L1899.17,89.28 L1900.68,89.26 L1902.19,89.23 L1903.69,89.2 L1905.2,89.17 L1906.71,89.15 L1908.22,89.12 L1909.73,89.09 L1911.24,89.06 L1912.75,89.03 L1914.26,89 L1915.77,88.97 L1917.28,88.94 L1918.79,88.91 L1920.3,88.88 L1921.81,88.84 L1923.32,88.81 L1924.82,88.78 L1926.33,88.74 L1927.84,88.71 L1929.35,88.67 L1930.86,88.63 L1932.37,88.59 L1933.88,88.55 L1935.39,88.52 L1936.9,88.48 L1938.41,88.44 L1939.92,88.4 L1941.43,88.37 L1942.94,88.34" fill="none" stroke="#0000FF" stroke-width="7" stroke-linejoin="round"/>
<rect x="1192.6" y="637.69" width="4.8" height="4.8" fill="#fff"/>
<rect x="1204.47" y="637.69" width="4.8" height="4.8" fill="#fff"/>
<rect x="1220.8" y="637.69" width="4.8" height="4.8" fill="#fff"/>
<rect x="1244.54" y="637.69" width="4.8" height="4.8" fill="#fff"/>
<rect x="1257.9" y="637.69" width="4.8" height="4.8" fill="#fff"/>
<rect x="1271.25" y="637.65" width="4.8" height="4.8" fill="#fff"/>
<rect x="1281.64" y="637.48" width="4.8" height="4.8" fill="#fff"/>
<rect x="1295" y="637.02" width="4.8" height="4.8" fill="#fff"/>
<rect x="1312.8" y="635.05" width="4.8" height="4.8" fill="#fff"/>
<rect x="1326.16" y="632.09" width="4.8" height="4.8" fill="#fff"/>
<rect x="1341" y="625.89" width="4.8" height="4.8" fill="#fff"/>
<rect x="1352.13" y="618.49" width="4.8" height="4.8" fill="#fff"/>
<rect x="1363.26" y="608.07" width="4.8" height="4.8" fill="#fff"/>
<rect x="1380.47" y="592.48" width="4.8" height="4.8" fill="#fff"/>
<rect x="1403.77" y="565.36" width="4.8" height="4.8" fill="#fff"/>
<rect x="1417.72" y="545.74" width="4.8" height="4.8" fill="#fff"/>
<rect x="1428.85" y="525.45" width="4.8" height="4.8" fill="#fff"/>
<rect x="1449.04" y="490.4" width="4.8" height="4.8" fill="#fff"/>
<rect x="1461.65" y="465.67" width="4.8" height="4.8" fill="#fff"/>
<rect x="1480.5" y="427.2" width="4.8" height="4.8" fill="#fff"/>
<rect x="1492.07" y="400.84" width="4.8" height="4.8" fill="#fff"/>
<rect x="1509.14" y="360.8" width="4.8" height="4.8" fill="#fff"/>
<rect x="1526.5" y="320.61" width="4.8" height="4.8" fill="#fff"/>
<rect x="1549.35" y="267.69" width="4.8" height="4.8" fill="#fff"/>
<rect x="1564.49" y="238.5" width="4.8" height="4.8" fill="#fff"/>
<rect x="1583.63" y="201.93" width="4.8" height="4.8" fill="#fff"/>
<rect x="1602.93" y="173.18" width="4.8" height="4.8" fill="#fff"/>
<rect x="1621.03" y="150.18" width="4.8" height="4.8" fill="#fff"/>
<rect x="1633.35" y="138.22" width="4.8" height="4.8" fill="#fff"/>
<rect x="1651.16" y="124.72" width="4.8" height="4.8" fill="#fff"/>
<rect x="1667.48" y="115.69" width="4.8" height="4.8" fill="#fff"/>
<rect x="1679.8" y="110.58" width="4.8" height="4.8" fill="#fff"/>
<rect x="1697.16" y="105.16" width="4.8" height="4.8" fill="#fff"/>
<rect x="1719.27" y="100.42" width="4.8" height="4.8" fill="#fff"/>
<rect x="1749.1" y="96.68" width="4.8" height="4.8" fill="#fff"/>
<rect x="1779.97" y="94.33" width="4.8" height="4.8" fill="#fff"/>
<rect x="1815.88" y="92.99" width="4.8" height="4.8" fill="#fff"/>
<rect x="1850.9" y="91.93" width="4.8" height="4.8" fill="#fff"/>
<rect x="1875.24" y="90.91" width="4.8" height="4.8" fill="#fff"/>
<rect x="1904.92" y="89.76" width="4.8" height="4.8" fill="#fff"/>
<rect x="1927.18" y="89.24" width="4.8" height="4.8" fill="#fff"/>
<rect x="1192.6" y="637.69" width="4.8" height="4.8" fill="#fff"/>
<rect x="1204.47" y="637.69" width="4.8" height="4.8" fill="#fff"/>
<rect x="1220.8" y="637.69" width="4.8" height="4.8" fill="#fff"/>
<rect x="1244.54" y="637.69" width="4.8" height="4.8" fill="#fff"/>
<rect x="1257.9" y="637.69" width="4.8" height="4.8" fill="#fff"/>
<rect x="1271.25" y="637.65" width="4.8" height="4.8" fill="#fff"/>
<rect x="1281.64" y="637.45" width="4.8" height="4.8" fill="#fff"/>
<rect x="1295" y="636.92" width="4.8" height="4.8" fill="#fff"/>
<rect x="1312.8" y="634.51" width="4.8" height="4.8" fill="#fff"/>
<rect x="1326.16" y="630.62" width="4.8" height="4.8" fill="#fff"/>
<rect x="1341" y="623.13" width="4.8" height="4.8" fill="#fff"/>
<rect x="1355.84" y="612.14" width="4.8" height="4.8" fill="#fff"/>
<rect x="1370.68" y="597.45" width="4.8" height="4.8" fill="#fff"/>
<rect x="1385.52" y="578.2" width="4.8" height="4.8" fill="#fff"/>
<rect x="1400.36" y="552.15" width="4.8" height="4.8" fill="#fff"/>
<rect x="1417.72" y="522.3" width="4.8" height="4.8" fill="#fff"/>
<rect x="1434.49" y="488.29" width="4.8" height="4.8" fill="#fff"/>
<rect x="1448.14" y="458.06" width="4.8" height="4.8" fill="#fff"/>
<rect x="1462.24" y="427.55" width="4.8" height="4.8" fill="#fff"/>
<rect x="1478.72" y="389.88" width="4.8" height="4.8" fill="#fff"/>
<rect x="1492.07" y="358.1" width="4.8" height="4.8" fill="#fff"/>
<rect x="1509.14" y="316.48" width="4.8" height="4.8" fill="#fff"/>
<rect x="1532.14" y="261.78" width="4.8" height="4.8" fill="#fff"/>
<rect x="1547.28" y="229.23" width="4.8" height="4.8" fill="#fff"/>
<rect x="1568.05" y="190.56" width="4.8" height="4.8" fill="#fff"/>
<rect x="1587.34" y="161.6" width="4.8" height="4.8" fill="#fff"/>
<rect x="1601.89" y="143.18" width="4.8" height="4.8" fill="#fff"/>
<rect x="1622.96" y="124.73" width="4.8" height="4.8" fill="#fff"/>
<rect x="1637.06" y="115.98" width="4.8" height="4.8" fill="#fff"/>
<rect x="1654.12" y="108.56" width="4.8" height="4.8" fill="#fff"/>
<rect x="1679.35" y="102.43" width="4.8" height="4.8" fill="#fff"/>
<rect x="1698.64" y="98.37" width="4.8" height="4.8" fill="#fff"/>
<rect x="1726.84" y="95.16" width="4.8" height="4.8" fill="#fff"/>
<rect x="1756.52" y="92.91" width="4.8" height="4.8" fill="#fff"/>
<rect x="1786.2" y="91.28" width="4.8" height="4.8" fill="#fff"/>
<rect x="1815.88" y="89.99" width="4.8" height="4.8" fill="#fff"/>
<rect x="1845.56" y="88.98" width="4.8" height="4.8" fill="#fff"/>
<rect x="1875.24" y="88.22" width="4.8" height="4.8" fill="#fff"/>
<rect x="1904.92" y="87.7" width="4.8" height="4.8" fill="#fff"/>
<rect x="1930.15" y="87.18" width="4.8" height="4.8" fill="#fff"/>
<polygon points="1187.35,637.59 1193.75,637.59 1190.55,643.09" fill="#fff" stroke="#0000FF" stroke-width="1"/>
<polygon points="1203.67,637.59 1210.07,637.59 1206.87,643.09" fill="#fff" stroke="#0000FF" stroke-width="1"/>
<polygon points="1220,637.59 1226.4,637.59 1223.2,643.09" fill="#fff" stroke="#0000FF" stroke-width="1"/>
<polygon points="1243.74,637.59 1250.14,637.59 1246.94,643.09" fill="#fff" stroke="#0000FF" stroke-width="1"/>
<polygon points="1257.1,637.59 1263.5,637.59 1260.3,643.09" fill="#fff" stroke="#0000FF" stroke-width="1"/>
<polygon points="1270.45,637.54 1276.85,637.54 1273.65,643.04" fill="#fff" stroke="#0000FF" stroke-width="1"/>
<polygon points="1280.84,637.29 1287.24,637.29 1284.04,642.79" fill="#fff" stroke="#0000FF" stroke-width="1"/>
<polygon points="1294.2,636.64 1300.6,636.64 1297.4,642.14" fill="#fff" stroke="#0000FF" stroke-width="1"/>
<polygon points="1312,634.1 1318.4,634.1 1315.2,639.6" fill="#fff" stroke="#0000FF" stroke-width="1"/>
<polygon points="1325.36,628.73 1331.76,628.73 1328.56,634.23" fill="#fff" stroke="#0000FF" stroke-width="1"/>
<polygon points="1342.28,616.75 1348.68,616.75 1345.48,622.25" fill="#fff" stroke="#0000FF" stroke-width="1"/>
<polygon points="1349.4,610.62 1355.8,610.62 1352.6,616.12" fill="#fff" stroke="#0000FF" stroke-width="1"/>
<polygon points="1361.42,598.46 1367.82,598.46 1364.62,603.96" fill="#fff" stroke="#0000FF" stroke-width="1"/>
<polygon points="1378.78,576.13 1385.18,576.13 1381.98,581.63" fill="#fff" stroke="#0000FF" stroke-width="1"/>
<polygon points="1393.62,552.53 1400.02,552.53 1396.82,558.03" fill="#fff" stroke="#0000FF" stroke-width="1"/>
<polygon points="1412.92,516.05 1419.32,516.05 1416.12,521.55" fill="#fff" stroke="#0000FF" stroke-width="1"/>
<polygon points="1428.35,481.05 1434.75,481.05 1431.55,486.55" fill="#fff" stroke="#0000FF" stroke-width="1"/>
<polygon points="1445.56,439.03 1451.96,439.03 1448.76,444.53" fill="#fff" stroke="#0000FF" stroke-width="1"/>
<polygon points="1460.4,404.4 1466.8,404.4 1463.6,409.9" fill="#fff" stroke="#0000FF" stroke-width="1"/>
<polygon points="1475.99,363.98 1482.39,363.98 1479.19,369.48" fill="#fff" stroke="#0000FF" stroke-width="1"/>
<polygon points="1487.12,334.41 1493.52,334.41 1490.32,339.91" fill="#fff" stroke="#0000FF" stroke-width="1"/>
<polygon points="1506.41,286.65 1512.81,286.65 1509.61,292.15" fill="#fff" stroke="#0000FF" stroke-width="1"/>
<polygon points="1529.41,235 1535.81,235 1532.61,240.5" fill="#fff" stroke="#0000FF" stroke-width="1"/>
<polygon points="1546.48,201.65 1552.88,201.65 1549.68,207.15" fill="#fff" stroke="#0000FF" stroke-width="1"/>
<polygon points="1567.25,166.48 1573.65,166.48 1570.45,171.98" fill="#fff" stroke="#0000FF" stroke-width="1"/>
<polygon points="1586.54,141.66 1592.94,141.66 1589.74,147.16" fill="#fff" stroke="#0000FF" stroke-width="1"/>
<polygon points="1601.38,126.41 1607.78,126.41 1604.58,131.91" fill="#fff" stroke="#0000FF" stroke-width="1"/>
<polygon points="1620.68,113.88 1627.08,113.88 1623.88,119.38" fill="#fff" stroke="#0000FF" stroke-width="1"/>
<polygon points="1636.26,106.89 1642.66,106.89 1639.46,112.39" fill="#fff" stroke="#0000FF" stroke-width="1"/>
<polygon points="1653.32,101.38 1659.72,101.38 1656.52,106.88" fill="#fff" stroke="#0000FF" stroke-width="1"/>
<polygon points="1678.55,97.11 1684.95,97.11 1681.75,102.61" fill="#fff" stroke="#0000FF" stroke-width="1"/>
<polygon points="1697.84,94.93 1704.24,94.93 1701.04,100.43" fill="#fff" stroke="#0000FF" stroke-width="1"/>
<polygon points="1726.04,92.39 1732.44,92.39 1729.24,97.89" fill="#fff" stroke="#0000FF" stroke-width="1"/>
<polygon points="1748.3,90.73 1754.7,90.73 1751.5,96.23" fill="#fff" stroke="#0000FF" stroke-width="1"/>
<polygon points="1769.08,89.66 1775.48,89.66 1772.28,95.16" fill="#fff" stroke="#0000FF" stroke-width="1"/>
<polygon points="1792.82,88.9 1799.22,88.9 1796.02,94.4" fill="#fff" stroke="#0000FF" stroke-width="1"/>
<polygon points="1815.08,88.37 1821.48,88.37 1818.28,93.87" fill="#fff" stroke="#0000FF" stroke-width="1"/>
<polygon points="1837.34,87.92 1843.74,87.92 1840.54,93.42" fill="#fff" stroke="#0000FF" stroke-width="1"/>
<polygon points="1859.6,87.47 1866,87.47 1862.8,92.97" fill="#fff" stroke="#0000FF" stroke-width="1"/>
<polygon points="1881.86,87.03 1888.26,87.03 1885.06,92.53" fill="#fff" stroke="#0000FF" stroke-width="1"/>
<polygon points="1904.12,86.63 1910.52,86.63 1907.32,92.13" fill="#fff" stroke="#0000FF" stroke-width="1"/>
<polygon points="1926.38,86.16 1932.78,86.16 1929.58,91.66" fill="#fff" stroke="#0000FF" stroke-width="1"/>
<polygon points="1938.25,85.87 1944.65,85.87 1941.45,91.37" fill="#fff" stroke="#0000FF" stroke-width="1"/>
<text x="1193.5" y="712.5" text-anchor="middle" font-family="'Liberation Sans', Arial, sans-serif" font-weight="bold" font-size="52">0</text>
<text x="1342.6" y="712.5" text-anchor="middle" font-family="'Liberation Sans', Arial, sans-serif" font-weight="bold" font-size="52">1</text>
<text x="1491.7" y="712.5" text-anchor="middle" font-family="'Liberation Sans', Arial, sans-serif" font-weight="bold" font-size="52">2</text>
<text x="1640.8" y="712.5" text-anchor="middle" font-family="'Liberation Sans', Arial, sans-serif" font-weight="bold" font-size="52">3</text>
<text x="1789.9" y="712.5" text-anchor="middle" font-family="'Liberation Sans', Arial, sans-serif" font-weight="bold" font-size="52">4</text>
<text x="1939" y="712.5" text-anchor="middle" font-family="'Liberation Sans', Arial, sans-serif" font-weight="bold" font-size="52">5</text>
<text x="1234" y="769" font-family="'Liberation Sans', Arial, sans-serif" font-weight="bold" font-size="68.1">Collector Voltage (V)</text>
<line x1="1243.5" y1="172.7" x2="1318.6" y2="172.7" stroke="#575757" stroke-width="7"/>
<rect x="1278" y="169.2" width="6" height="6" fill="#fff" stroke="#888" stroke-width="1"/>
<text x="1329" y="182.4" font-family="'Liberation Sans', Arial, sans-serif" font-weight="bold" font-size="51">0V</text>
<line x1="1243.5" y1="234.7" x2="1318.6" y2="234.7" stroke="#F53B3B" stroke-width="7"/>
<rect x="1279" y="232.2" width="4.5" height="4.5" fill="#fff"/>
<text x="1329" y="244.5" font-family="'Liberation Sans', Arial, sans-serif" font-weight="bold" font-size="51">3V</text>
<line x1="1243.5" y1="277.4" x2="1318.6" y2="277.4" stroke="#0000FF" stroke-width="7"/>
<polygon points="1278.2,274.9 1284.6,274.9 1281.4,280.4" fill="#fff"/>
<text x="1329" y="288.2" font-family="'Liberation Sans', Arial, sans-serif" font-weight="bold" font-size="51">15V</text>
<text transform="translate(1060.4,531) rotate(-90)" font-family="'Liberation Sans', Arial, sans-serif" font-weight="bold" font-size="67">J<tspan dy="13.3">C </tspan><tspan dy="-10.6" font-weight="normal" font-family="'Liberation Serif', 'Times New Roman', serif" font-size="53">(</tspan><tspan dy="-2.7">A/cm</tspan><tspan dy="-12">2</tspan><tspan dy="14.7" font-weight="normal" font-family="'Liberation Serif', 'Times New Roman', serif" font-size="53">)</tspan></text>
<text x="905" y="735" font-family="'Liberation Sans', Arial, sans-serif" font-weight="bold" font-size="128">(c)</text>
<rect x="1179.1" y="799.5" width="773.4" height="622.1" fill="none" stroke="#000" stroke-width="4.5"/>
<line x1="1179.1" y1="1359.7" x2="1191.6" y2="1359.7" stroke="#000" stroke-width="4"/>
<text x="1163.5" y="1373.7" text-anchor="end" font-family="'Liberation Sans', Arial, sans-serif" font-weight="bold" font-size="52">1</text>
<line x1="1179.1" y1="1297.55" x2="1186.6" y2="1297.55" stroke="#000" stroke-width="4"/>
<line x1="1179.1" y1="1235.4" x2="1191.6" y2="1235.4" stroke="#000" stroke-width="4"/>
<text x="1163.5" y="1249.4" text-anchor="end" font-family="'Liberation Sans', Arial, sans-serif" font-weight="bold" font-size="52">2</text>
<line x1="1179.1" y1="1173.25" x2="1186.6" y2="1173.25" stroke="#000" stroke-width="4"/>
<line x1="1179.1" y1="1111.1" x2="1191.6" y2="1111.1" stroke="#000" stroke-width="4"/>
<text x="1163.5" y="1125.1" text-anchor="end" font-family="'Liberation Sans', Arial, sans-serif" font-weight="bold" font-size="52">3</text>
<line x1="1179.1" y1="1048.95" x2="1186.6" y2="1048.95" stroke="#000" stroke-width="4"/>
<line x1="1179.1" y1="986.8" x2="1191.6" y2="986.8" stroke="#000" stroke-width="4"/>
<text x="1163.5" y="1000.8" text-anchor="end" font-family="'Liberation Sans', Arial, sans-serif" font-weight="bold" font-size="52">4</text>
<line x1="1179.1" y1="924.65" x2="1186.6" y2="924.65" stroke="#000" stroke-width="4"/>
<line x1="1179.1" y1="862.5" x2="1191.6" y2="862.5" stroke="#000" stroke-width="4"/>
<text x="1163.5" y="876.5" text-anchor="end" font-family="'Liberation Sans', Arial, sans-serif" font-weight="bold" font-size="52">5</text>
<line x1="1230.3" y1="1421.6" x2="1230.3" y2="1414.1" stroke="#000" stroke-width="4"/>
<line x1="1281.9" y1="1421.6" x2="1281.9" y2="1409.1" stroke="#000" stroke-width="4"/>
<line x1="1333.5" y1="1421.6" x2="1333.5" y2="1414.1" stroke="#000" stroke-width="4"/>
<line x1="1385.1" y1="1421.6" x2="1385.1" y2="1409.1" stroke="#000" stroke-width="4"/>
<line x1="1436.7" y1="1421.6" x2="1436.7" y2="1414.1" stroke="#000" stroke-width="4"/>
<line x1="1488.3" y1="1421.6" x2="1488.3" y2="1409.1" stroke="#000" stroke-width="4"/>
<line x1="1539.9" y1="1421.6" x2="1539.9" y2="1414.1" stroke="#000" stroke-width="4"/>
<line x1="1591.5" y1="1421.6" x2="1591.5" y2="1409.1" stroke="#000" stroke-width="4"/>
<line x1="1643.1" y1="1421.6" x2="1643.1" y2="1414.1" stroke="#000" stroke-width="4"/>
<line x1="1694.7" y1="1421.6" x2="1694.7" y2="1409.1" stroke="#000" stroke-width="4"/>
<line x1="1746.3" y1="1421.6" x2="1746.3" y2="1414.1" stroke="#000" stroke-width="4"/>
<line x1="1797.9" y1="1421.6" x2="1797.9" y2="1409.1" stroke="#000" stroke-width="4"/>
<line x1="1849.5" y1="1421.6" x2="1849.5" y2="1414.1" stroke="#000" stroke-width="4"/>
<line x1="1901.1" y1="1421.6" x2="1901.1" y2="1409.1" stroke="#000" stroke-width="4"/>
<path d="M1357.82,1326.81 L1373.66,1239.32 L1383.88,1199.61 L1398.7,1137.56 L1408.92,1115.22 L1424.25,1080.48 L1446.22,1052.55 L1457.46,1046.97 L1481.48,1032.08 L1496.3,1027.11 L1515.72,1020.91 L1545.35,1012.22 L1584.19,1002.29 L1642.44,987.4 L1701.72,973.75 L1740.56,963.82 L1759.46,960.1 L1838.16,941.48 L1857.58,937.76 L1935.25,919.15 L1955.69,914.18" fill="none" stroke="#FF0000" stroke-width="5" stroke-linejoin="round"/>
<rect x="1352.62" y="1321.61" width="10.4" height="10.4" fill="#fff" stroke="#FF0000" stroke-width="1.5"/>
<rect x="1368.46" y="1234.12" width="10.4" height="10.4" fill="#fff" stroke="#FF0000" stroke-width="1.5"/>
<rect x="1378.68" y="1194.41" width="10.4" height="10.4" fill="#fff" stroke="#FF0000" stroke-width="1.5"/>
<rect x="1393.5" y="1132.36" width="10.4" height="10.4" fill="#fff" stroke="#FF0000" stroke-width="1.5"/>
<rect x="1403.72" y="1110.02" width="10.4" height="10.4" fill="#fff" stroke="#FF0000" stroke-width="1.5"/>
<rect x="1419.05" y="1075.28" width="10.4" height="10.4" fill="#fff" stroke="#FF0000" stroke-width="1.5"/>
<rect x="1441.02" y="1047.35" width="10.4" height="10.4" fill="#fff" stroke="#FF0000" stroke-width="1.5"/>
<rect x="1452.26" y="1041.77" width="10.4" height="10.4" fill="#fff" stroke="#FF0000" stroke-width="1.5"/>
<rect x="1476.28" y="1026.88" width="10.4" height="10.4" fill="#fff" stroke="#FF0000" stroke-width="1.5"/>
<rect x="1491.1" y="1021.91" width="10.4" height="10.4" fill="#fff" stroke="#FF0000" stroke-width="1.5"/>
<rect x="1510.52" y="1015.71" width="10.4" height="10.4" fill="#fff" stroke="#FF0000" stroke-width="1.5"/>
<rect x="1540.15" y="1007.02" width="10.4" height="10.4" fill="#fff" stroke="#FF0000" stroke-width="1.5"/>
<rect x="1578.99" y="997.09" width="10.4" height="10.4" fill="#fff" stroke="#FF0000" stroke-width="1.5"/>
<rect x="1637.24" y="982.2" width="10.4" height="10.4" fill="#fff" stroke="#FF0000" stroke-width="1.5"/>
<rect x="1696.52" y="968.55" width="10.4" height="10.4" fill="#fff" stroke="#FF0000" stroke-width="1.5"/>
<rect x="1735.36" y="958.62" width="10.4" height="10.4" fill="#fff" stroke="#FF0000" stroke-width="1.5"/>
<rect x="1754.26" y="954.9" width="10.4" height="10.4" fill="#fff" stroke="#FF0000" stroke-width="1.5"/>
<rect x="1832.96" y="936.28" width="10.4" height="10.4" fill="#fff" stroke="#FF0000" stroke-width="1.5"/>
<rect x="1852.38" y="932.56" width="10.4" height="10.4" fill="#fff" stroke="#FF0000" stroke-width="1.5"/>
<rect x="1930.05" y="913.95" width="10.4" height="10.4" fill="#fff" stroke="#FF0000" stroke-width="1.5"/>
<rect x="1950.49" y="908.98" width="10.4" height="10.4" fill="#fff" stroke="#FF0000" stroke-width="1.5"/>
<path d="M1359.86,1363.42 L1374.68,1295.17 L1383.88,1264.14 L1398.7,1216.99 L1408.92,1203.33 L1422.2,1181 L1432.42,1176.03 L1446.73,1167.35 L1457.46,1166.1 L1471.77,1164.86 L1481.48,1164.86 L1495.79,1166.1 L1516.23,1163.62 L1545.35,1161.14 L1584.19,1152.45 L1642.44,1140.04 L1701.72,1125.15 L1740.56,1113.98 L1759.46,1109.02 L1838.16,1087.92 L1857.58,1081.72 L1935.25,1059.38 L1955.69,1054.41" fill="none" stroke="#0000FF" stroke-width="5" stroke-linejoin="round"/>
<circle cx="1359.86" cy="1363.42" r="5.8" fill="#fff" stroke="#0000FF" stroke-width="1.6"/>
<circle cx="1374.68" cy="1295.17" r="5.8" fill="#fff" stroke="#0000FF" stroke-width="1.6"/>
<circle cx="1383.88" cy="1264.14" r="5.8" fill="#fff" stroke="#0000FF" stroke-width="1.6"/>
<circle cx="1398.7" cy="1216.99" r="5.8" fill="#fff" stroke="#0000FF" stroke-width="1.6"/>
<circle cx="1408.92" cy="1203.33" r="5.8" fill="#fff" stroke="#0000FF" stroke-width="1.6"/>
<circle cx="1422.2" cy="1181" r="5.8" fill="#fff" stroke="#0000FF" stroke-width="1.6"/>
<circle cx="1432.42" cy="1176.03" r="5.8" fill="#fff" stroke="#0000FF" stroke-width="1.6"/>
<circle cx="1446.73" cy="1167.35" r="5.8" fill="#fff" stroke="#0000FF" stroke-width="1.6"/>
<circle cx="1457.46" cy="1166.1" r="5.8" fill="#fff" stroke="#0000FF" stroke-width="1.6"/>
<circle cx="1471.77" cy="1164.86" r="5.8" fill="#fff" stroke="#0000FF" stroke-width="1.6"/>
<circle cx="1481.48" cy="1164.86" r="5.8" fill="#fff" stroke="#0000FF" stroke-width="1.6"/>
<circle cx="1495.79" cy="1166.1" r="5.8" fill="#fff" stroke="#0000FF" stroke-width="1.6"/>
<circle cx="1516.23" cy="1163.62" r="5.8" fill="#fff" stroke="#0000FF" stroke-width="1.6"/>
<circle cx="1545.35" cy="1161.14" r="5.8" fill="#fff" stroke="#0000FF" stroke-width="1.6"/>
<circle cx="1584.19" cy="1152.45" r="5.8" fill="#fff" stroke="#0000FF" stroke-width="1.6"/>
<circle cx="1642.44" cy="1140.04" r="5.8" fill="#fff" stroke="#0000FF" stroke-width="1.6"/>
<circle cx="1701.72" cy="1125.15" r="5.8" fill="#fff" stroke="#0000FF" stroke-width="1.6"/>
<circle cx="1740.56" cy="1113.98" r="5.8" fill="#fff" stroke="#0000FF" stroke-width="1.6"/>
<circle cx="1759.46" cy="1109.02" r="5.8" fill="#fff" stroke="#0000FF" stroke-width="1.6"/>
<circle cx="1838.16" cy="1087.92" r="5.8" fill="#fff" stroke="#0000FF" stroke-width="1.6"/>
<circle cx="1857.58" cy="1081.72" r="5.8" fill="#fff" stroke="#0000FF" stroke-width="1.6"/>
<circle cx="1935.25" cy="1059.38" r="5.8" fill="#fff" stroke="#0000FF" stroke-width="1.6"/>
<circle cx="1955.69" cy="1054.41" r="5.8" fill="#fff" stroke="#0000FF" stroke-width="1.6"/>
<line x1="1358.7" y1="1065" x2="1358.7" y2="1421.6" stroke="#000" stroke-width="4.5"/>
<line x1="1439" y1="1061" x2="1439" y2="1421.6" stroke="#000" stroke-width="4.5"/>
<text x="1317" y="1044.5" font-family="'Liberation Sans', Arial, sans-serif" font-weight="bold" font-size="41">CS layer</text>
<line x1="1353" y1="1069.3" x2="1449" y2="1069.3" stroke="#000" stroke-width="2"/>
<line x1="1362" y1="1069.3" x2="1432" y2="1069.3" stroke="#000" stroke-width="4" stroke-dasharray="12 8"/>
<polygon points="1361,1069.3 1372,1064 1372,1074.6" fill="#000"/>
<polygon points="1436,1069.3 1425,1064 1425,1074.6" fill="#000"/>
<text x="1178.8" y="1475.5" text-anchor="middle" font-family="'Liberation Sans', Arial, sans-serif" font-weight="bold" font-size="51">0</text>
<text x="1282.04" y="1475.5" text-anchor="middle" font-family="'Liberation Sans', Arial, sans-serif" font-weight="bold" font-size="51">2</text>
<text x="1385.28" y="1475.5" text-anchor="middle" font-family="'Liberation Sans', Arial, sans-serif" font-weight="bold" font-size="51">4</text>
<text x="1488.52" y="1475.5" text-anchor="middle" font-family="'Liberation Sans', Arial, sans-serif" font-weight="bold" font-size="51">6</text>
<text x="1591.76" y="1475.5" text-anchor="middle" font-family="'Liberation Sans', Arial, sans-serif" font-weight="bold" font-size="51">8</text>
<text x="1695" y="1475.5" text-anchor="middle" font-family="'Liberation Sans', Arial, sans-serif" font-weight="bold" font-size="51">10</text>
<text x="1798.24" y="1475.5" text-anchor="middle" font-family="'Liberation Sans', Arial, sans-serif" font-weight="bold" font-size="51">12</text>
<text x="1901.48" y="1475.5" text-anchor="middle" font-family="'Liberation Sans', Arial, sans-serif" font-weight="bold" font-size="51">14</text>
<text x="1317" y="1536" font-family="'Liberation Sans', Arial, sans-serif" font-weight="bold" font-size="70">Distance <tspan font-weight="normal" font-family="'Liberation Serif', 'Times New Roman', serif" font-size="55">(</tspan><tspan font-weight="normal">µ</tspan>m<tspan font-weight="normal" font-family="'Liberation Serif', 'Times New Roman', serif" font-size="55">)</tspan></text>
<line x1="1248" y1="858" x2="1326" y2="858" stroke="#FF0000" stroke-width="5"/>
<rect x="1281" y="852.3" width="11.4" height="11.4" fill="#fff" stroke="#FF0000" stroke-width="1.6"/>
<text x="1344" y="867.5" font-family="'Liberation Sans', Arial, sans-serif" font-weight="bold" font-size="53.4">Proposed</text>
<line x1="1248" y1="923" x2="1326" y2="923" stroke="#0000FF" stroke-width="5"/>
<circle cx="1286.6" cy="923" r="5.8" fill="#fff" stroke="#0000FF" stroke-width="1.6"/>
<text x="1349" y="933.4" font-family="'Liberation Sans', Arial, sans-serif" font-weight="bold" font-size="53.4">Conventional</text>
<text transform="translate(1113.5,1512.2) rotate(-90)" font-family="'Liberation Sans', Arial, sans-serif" font-weight="bold" font-size="70.5">Hole Density <tspan font-weight="normal" font-family="'Liberation Serif', 'Times New Roman', serif" font-size="55">(</tspan>10<tspan dy="-14">15</tspan><tspan dy="14">cm</tspan><tspan dy="-14">-3</tspan><tspan dy="14" font-weight="normal" font-family="'Liberation Serif', 'Times New Roman', serif" font-size="55">)</tspan></text>
</svg>
</body></html>
